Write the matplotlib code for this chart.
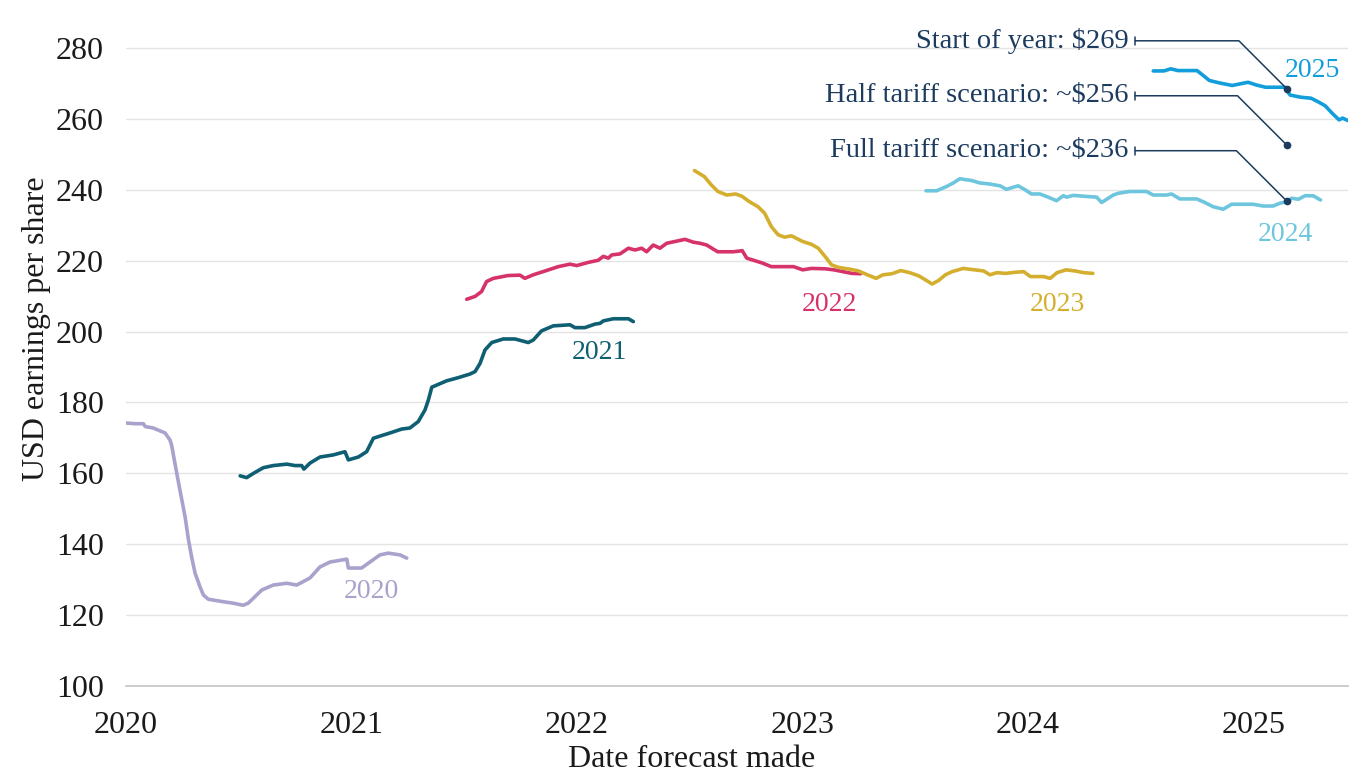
#!/usr/bin/env python3
'''S&P 500 earnings per share forecasts by calendar year'''
import matplotlib
matplotlib.use('Agg')
import matplotlib.pyplot as plt

plt.rcParams['font.family'] = ['Liberation Serif', 'DejaVu Serif']

# forecast date (decimal year) and forecast value for each target year
x_2020 = [2020.0, 2020.04, 2020.077, 2020.085, 2020.12, 2020.173, 2020.195, 2020.202,
          2020.225, 2020.239, 2020.262, 2020.277, 2020.291, 2020.306, 2020.328, 2020.343,
          2020.365, 2020.431, 2020.474, 2020.520, 2020.542, 2020.565, 2020.602, 2020.653,
          2020.713, 2020.757, 2020.816, 2020.860, 2020.905, 2020.979, 2020.986, 2021.045,
          2021.082, 2021.126, 2021.163, 2021.215, 2021.245]
y_2020 = [174.2, 174.0, 174.0, 173.2, 172.8, 171.4, 169.4, 168.0,
          160.0, 155.3, 147.7, 141.2, 136.4, 131.9, 128.0, 125.7,
          124.5, 123.8, 123.4, 122.8, 123.4, 124.8, 127.1, 128.5,
          129.0, 128.5, 130.5, 133.6, 135.0, 135.8, 133.3, 133.3,
          135.0, 137.0, 137.5, 137.0, 136.1]

x_2021 = [2020.506, 2020.535, 2020.565, 2020.609, 2020.653, 2020.713, 2020.749, 2020.779,
          2020.789, 2020.816, 2020.860, 2020.919, 2020.971, 2020.986, 2021.030, 2021.067,
          2021.097, 2021.126, 2021.171, 2021.223, 2021.259, 2021.296, 2021.326, 2021.341,
          2021.356, 2021.422, 2021.474, 2021.525, 2021.548, 2021.570, 2021.592, 2021.622,
          2021.673, 2021.725, 2021.784, 2021.806, 2021.843, 2021.895, 2021.969, 2021.991,
          2022.035, 2022.080, 2022.102, 2022.117, 2022.161, 2022.228, 2022.250]
y_2021 = [159.3, 158.8, 160.0, 161.6, 162.2, 162.6, 162.2, 162.2,
          161.2, 162.9, 164.6, 165.2, 166.1, 163.8, 164.6, 166.1,
          169.9, 170.5, 171.4, 172.5, 172.8, 174.6, 177.9, 180.7,
          184.3, 186.1, 187.0, 188.0, 188.7, 191.0, 194.8, 196.9,
          197.9, 197.9, 196.9, 197.6, 200.2, 201.6, 201.9, 201.1,
          201.1, 202.1, 202.3, 203.0, 203.6, 203.6, 202.8]

x_2022 = [2021.511, 2021.548, 2021.577, 2021.599, 2021.629, 2021.695, 2021.747, 2021.769,
          2021.806, 2021.850, 2021.917, 2021.969, 2021.999, 2022.050, 2022.094, 2022.117,
          2022.139, 2022.154, 2022.191, 2022.228, 2022.257, 2022.287, 2022.309, 2022.338,
          2022.368, 2022.398, 2022.479, 2022.516, 2022.545, 2022.575, 2022.624, 2022.694,
          2022.733, 2022.753, 2022.823, 2022.862, 2022.961, 2023.001, 2023.040, 2023.100,
          2023.139, 2023.179, 2023.219, 2023.258]
y_2022 = [209.1, 209.9, 211.3, 214.1, 215.0, 215.8, 215.9, 215.0,
          216.0, 216.9, 218.3, 219.0, 218.6, 219.5, 220.1, 221.2,
          220.7, 221.6, 221.9, 223.5, 223.0, 223.5, 222.5, 224.4,
          223.5, 224.9, 226.0, 225.2, 224.9, 224.4, 222.5, 222.5,
          222.8, 220.7, 219.3, 218.3, 218.3, 217.4, 217.8, 217.7,
          217.4, 216.9, 216.4, 216.3]

x_2023 = [2022.521, 2022.565, 2022.595, 2022.625, 2022.664, 2022.704, 2022.733, 2022.763,
          2022.803, 2022.832, 2022.862, 2022.892, 2022.921, 2022.951, 2023.001, 2023.040,
          2023.070, 2023.100, 2023.129, 2023.159, 2023.209, 2023.248, 2023.288, 2023.327,
          2023.357, 2023.397, 2023.436, 2023.476, 2023.516, 2023.545, 2023.575, 2023.604,
          2023.634, 2023.664, 2023.713, 2023.763, 2023.803, 2023.832, 2023.862, 2023.902,
          2023.941, 2023.981, 2024.011, 2024.070, 2024.099, 2024.129, 2024.169, 2024.208,
          2024.248, 2024.288]
y_2023 = [245.4, 243.7, 241.4, 239.5, 238.5, 238.8, 238.1, 236.7,
          235.2, 233.4, 229.6, 227.3, 226.6, 227.0, 225.4, 224.6,
          223.5, 221.2, 218.8, 218.1, 217.6, 217.1, 216.0, 215.0,
          216.0, 216.3, 217.2, 216.6, 215.7, 214.6, 213.4, 214.4,
          216.0, 216.9, 217.8, 217.4, 217.1, 216.0, 216.6, 216.4,
          216.7, 216.9, 215.5, 215.5, 215.0, 216.6, 217.4, 217.1,
          216.6, 216.4]

x_2024 = [2023.548, 2023.595, 2023.639, 2023.669, 2023.698, 2023.728, 2023.750, 2023.787,
          2023.831, 2023.876, 2023.905, 2023.935, 2023.957, 2023.987, 2024.016, 2024.053,
          2024.090, 2024.127, 2024.157, 2024.172, 2024.201, 2024.260, 2024.305, 2024.327,
          2024.349, 2024.379, 2024.401, 2024.452, 2024.526, 2024.556, 2024.615, 2024.637,
          2024.674, 2024.748, 2024.778, 2024.822, 2024.866, 2024.904, 2024.999, 2025.044,
          2025.088, 2025.118, 2025.148, 2025.170, 2025.200, 2025.229, 2025.265, 2025.298]
y_2024 = [239.7, 239.7, 240.9, 241.9, 243.1, 242.8, 242.6, 241.9,
          241.6, 241.1, 240.1, 240.7, 241.1, 240.0, 238.8, 238.8,
          237.9, 236.9, 238.3, 237.9, 238.4, 238.1, 237.9, 236.4,
          237.3, 238.5, 239.0, 239.5, 239.5, 238.5, 238.5, 238.8,
          237.4, 237.4, 236.6, 235.2, 234.5, 235.9, 235.9, 235.4,
          235.4, 236.2, 236.6, 237.6, 237.3, 238.3, 238.3, 237.1]

x_2025 = [2024.556, 2024.603, 2024.634, 2024.665, 2024.750, 2024.774, 2024.805, 2024.851,
          2024.906, 2024.937, 2024.976, 2025.015, 2025.054, 2025.100, 2025.139, 2025.163,
          2025.209, 2025.256, 2025.287, 2025.318, 2025.349, 2025.380, 2025.396, 2025.419]
y_2025 = [273.5, 273.5, 274.1, 273.6, 273.6, 272.4, 270.8, 270.1,
          269.4, 269.8, 270.3, 269.5, 268.9, 268.9, 268.9, 266.7,
          266.1, 265.8, 264.8, 263.7, 261.6, 259.7, 260.2, 259.5]

series = [
    ('2020', x_2020, y_2020, '#a9a2cc', (2021.09, 126.8)),
    ('2021', x_2021, y_2021, '#0f5f73', (2022.10, 194.2)),
    ('2022', x_2022, y_2022, '#d6336c', (2023.12, 207.5)),
    ('2023', x_2023, y_2023, '#d4af2f', (2024.13, 207.5)),
    ('2024', x_2024, y_2024, '#6ec6de', (2025.14, 227.3)),
    ('2025', x_2025, y_2025, '#129ddb', (2025.26, 273.5)),
]

# 2025 scenarios
scenario_date = 2025.148
scenario_labels = ['Start of year: $269', 'Half tariff scenario: ~$256',
                   'Full tariff scenario: ~$236']
scenario_values = [268.5, 252.6, 236.8]
scenario_text_y = [282.0, 266.5, 251.0]

NAVY = '#1c3b5e'
TEXT = '#1a1a1a'

fig = plt.figure(figsize=(13.7, 7.77), dpi=100)
ax = fig.add_axes([0.092, 0.117, 0.892, 0.867])

for name, xs, ys, color, label_pos in series:
    ax.plot(xs, ys, color=color, lw=2.6, solid_capstyle='round',
            solid_joinstyle='round')
    ax.text(label_pos[0], label_pos[1], name, color=color, fontsize=20,
            ha='center', va='center')

for label, value, text_y in zip(scenario_labels, scenario_values, scenario_text_y):
    ax.annotate(label, xy=(scenario_date, value), xytext=(2024.445, text_y),
                ha='right', va='center', fontsize=20.5, color=NAVY,
                annotation_clip=False,
                arrowprops=dict(arrowstyle=']-,widthA=0.14,lengthA=0',
                                connectionstyle='angle,angleA=0,angleB=-45,rad=0',
                                relpos=(1, 0.5), shrinkA=3, shrinkB=0,
                                color=NAVY, lw=1.1))
    ax.plot(scenario_date, value, 'o', color=NAVY, ms=4.5, zorder=5)

ax.set_xlim(2020, 2025.42)
ax.set_ylim(100, 290)
ax.set_yticks(range(100, 281, 20))
ax.set_xticks(range(2020, 2026))
ax.set_xticklabels([str(y) for y in range(2020, 2026)])
ax.grid(axis='y', color='#e4e4e4', lw=1)
ax.set_axisbelow(True)
for side in ['top', 'right', 'left']:
    ax.spines[side].set_visible(False)
ax.spines['bottom'].set_color('#c4c4c4')
ax.spines['bottom'].set_linewidth(1.2)
ax.tick_params(axis='both', length=0, labelsize=23, labelcolor=TEXT)
ax.tick_params(axis='y', pad=16)
ax.tick_params(axis='x', pad=18)
ax.set_xlabel('Date forecast made', fontsize=23, color=TEXT)
ax.set_ylabel('USD earnings per share', fontsize=23, color=TEXT)
ax.xaxis.set_label_coords(0.463, -0.088)
ax.yaxis.set_label_coords(-0.0615, 0.53)

plt.savefig('out.png', dpi=100)
